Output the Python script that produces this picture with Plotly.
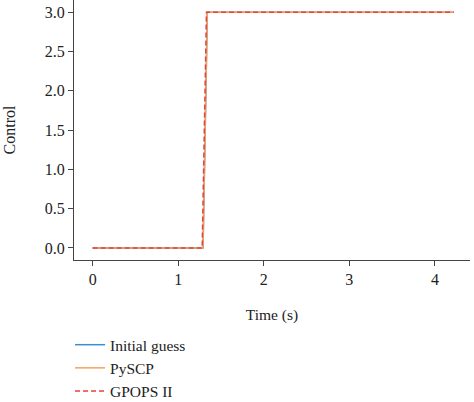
import plotly.graph_objects as go

# Data
t_guess = [0.0, 1.29, 1.34, 4.22]
u_guess = [0.0, 0.0, 3.0, 3.0]
t_pyscp = [0.0, 1.29, 1.34, 4.22]
u_pyscp = [0.0, 0.0, 3.0, 3.0]
t_gpops = [0.0, 1.28, 1.33, 4.22]
u_gpops = [0.0, 0.0, 3.0, 3.0]

x_ticks = [0, 1, 2, 3, 4]
y_ticks = [0.0, 0.5, 1.0, 1.5, 2.0, 2.5, 3.0]
y_ticktext = ["0.0", "0.5", "1.0", "1.5", "2.0", "2.5", "3.0"]

font_family = "Liberation Serif, DejaVu Serif, serif"

fig = go.Figure()
fig.add_trace(go.Scatter(x=t_guess, y=u_guess, mode="lines", name="Initial guess",
                         line=dict(color="#3b8ed4", width=1.5)))
fig.add_trace(go.Scatter(x=t_pyscp, y=u_pyscp, mode="lines", name="PySCP",
                         line=dict(color="#f4a259", width=1.5)))
fig.add_trace(go.Scatter(x=t_gpops, y=u_gpops, mode="lines", name="GPOPS II",
                         line=dict(color="#e8403a", width=1.5, dash="5px,3px")))

fig.update_layout(
    width=474, height=402,
    margin=dict(l=74, r=4, t=0, b=142, autoexpand=False),
    plot_bgcolor="white", paper_bgcolor="white",
    font=dict(family=font_family, size=16, color="#222222"),
    showlegend=True,
    legend=dict(x=-0.01, y=-0.262, xanchor="left", yanchor="top",
                bgcolor="rgba(0,0,0,0)", font=dict(size=15.5),
                tracegroupgap=0),
)
fig.update_xaxes(
    range=[-0.218, 4.41], tickmode="array", tickvals=x_ticks,
    ticks="outside", ticklen=5, tickcolor="#444444", automargin=False,
    showline=True, linecolor="#444444", linewidth=1, showgrid=False, zeroline=False,
    title=dict(text="Time (s)", standoff=21, font=dict(size=15.5)), tickfont=dict(size=16),
)
fig.update_yaxes(
    range=[-0.153, 3.155], tickmode="array", tickvals=y_ticks, ticktext=y_ticktext,
    ticks="outside", ticklen=5, tickcolor="#444444", automargin=False,
    showline=True, linecolor="#444444", linewidth=1, showgrid=False, zeroline=False,
    title=dict(text="Control", standoff=25, font=dict(size=16)), tickfont=dict(size=16),
)

post_js = (
    "document.documentElement.style.margin='0';"
    "document.documentElement.style.overflow='hidden';"
    "document.body.style.margin='0';"
    "document.body.style.overflow='hidden';"
    "var gd=document.querySelector('.plotly-graph-div');"
    "gd.style.position='fixed';gd.style.left='0px';gd.style.top='0px';"
)

fig.write_html("out.html", config={"displayModeBar": False}, post_script=post_js)
